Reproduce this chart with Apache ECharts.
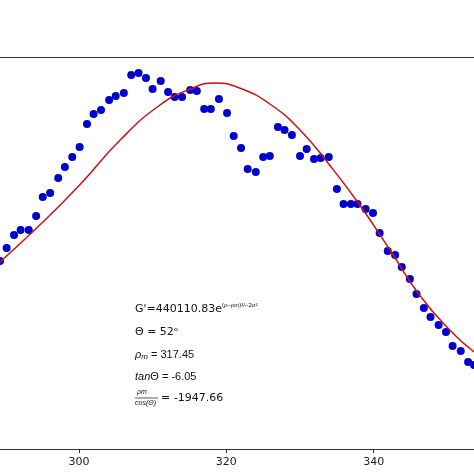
<!DOCTYPE html><html><head><meta charset="utf-8"><script src="https://cdn.jsdelivr.net/npm/echarts@6/dist/echarts.min.js"></script>
<style>html,body{margin:0;padding:0;background:#fff}#c{width:474px;height:474px}</style></head><body><div id="c"></div><script>
const rhoPts=[289.3,290.2,291.2,292.1,293.2,294.2,295.1,296.1,297.2,298.1,299.1,300.1,301.1,302.0,303.0,304.1,305.0,306.1,307.1,308.1,309.1,310.0,311.1,312.1,313.0,314.0,315.1,316.0,317.0,317.9,319.0,320.1,321.0,322.0,322.9,324.0,325.0,325.9,327.0,327.9,328.9,330.0,330.9,331.9,332.8,333.9,335.0,335.9,336.9,337.8,338.9,339.9,340.8,341.9,342.9,343.8,344.9,345.8,346.8,347.7,348.8,349.8,350.7,351.8,352.8,353.6];
const gPts=[188,201,214,219,219,233,252,256,271,282,292,302,325,335,339,349,353,356,374,376,371,360,368,357,352,352,359,358,340,340,350,336,313,301,280,277,292,293,322,319,314,293,300,290,291,292,260,245,245,245,240,236,216,198,194,182,170,155,141,132,124,117,103,98,87,84];
const rhoFit=[289.3,294.7,300.1,305.6,311.0,315.1,318.5,321.8,325.9,330.0,334.0,338.1,342.2,346.2,350.3,353.6];
const gFit=[187,224,264,309,344,360,366,361,345,319,284,244,199,154,119,97];
const xTicks=[300,320,340];
const chart=echarts.init(document.getElementById('c'));
chart.setOption({animation:false,
grid:{left:0,right:0,top:57,bottom:25,outerBoundsMode:'none',containLabel:false},
xAxis:[{type:'value',min:289.3,max:353.6,axisLabel:{customValues:xTicks,color:'#222',fontSize:11,fontFamily:'DejaVu Sans',margin:8},axisTick:{show:true,customValues:xTicks,length:4,lineStyle:{color:'#333'}},axisLine:{lineStyle:{color:'#333'}},splitLine:{show:false},name:'ρ',nameLocation:'middle',nameGap:24,nameTextStyle:{color:'#222',fontStyle:'italic',fontSize:11}},
{type:'value',position:'top',min:289.3,max:353.6,axisLabel:{show:false},axisTick:{show:false},axisLine:{lineStyle:{color:'#333'}},splitLine:{show:false}}],
yAxis:{type:'value',min:0,max:392,show:false},
series:[{type:'scatter',data:rhoPts.map((x,i)=>[x,gPts[i]]),symbolSize:8,itemStyle:{color:'#0000cc',opacity:1}},
{type:'line',data:rhoFit.map((x,i)=>[x,gFit[i]]),smooth:true,showSymbol:false,lineStyle:{color:'#cc1111',width:1.5},z:3}],
graphic:[{type:'text',left:135,top:302,style:{rich:{a:{fontSize:11,fill:'#111',fontFamily:'DejaVu Sans'},s:{fontSize:6,fill:'#111',verticalAlign:'top',padding:[0,0,8,0]}},text:'{a|G\'=440110.83e}{s|(ρ−ρm)²/−2σ²}'}},
{type:'text',left:135,top:327,style:{text:'Θ = 52ᵒ',fontSize:11,fill:'#111',fontFamily:'DejaVu Sans'}},
{type:'text',left:135,top:349,style:{rich:{i:{fontSize:11,fontStyle:'italic',fill:'#111'},b:{fontSize:8,fontStyle:'italic',fill:'#111',padding:[4,0,0,0]},a:{fontSize:11,fill:'#111'}},text:'{i|ρ}{b|m}{a| = 317.45}'}},
{type:'text',left:135,top:371,style:{rich:{i:{fontSize:11,fontStyle:'italic',fill:'#111'},a:{fontSize:11,fill:'#111'}},text:'{i|tan}{a|Θ = -6.05}'}},
{type:'text',left:137,top:389,style:{text:'ρm',fontSize:7,fontStyle:'italic',fill:'#111'}},
{type:'line',shape:{x1:135,y1:398,x2:158,y2:398},style:{stroke:'#111',lineWidth:0.7}},
{type:'text',left:135,top:400,style:{text:'cos(Θ)',fontSize:7,fontStyle:'italic',fill:'#111'}},
{type:'text',left:161,top:393,style:{text:'= -1947.66',fontSize:11,fill:'#111',fontFamily:'DejaVu Sans'}}]
});
</script></body></html>
